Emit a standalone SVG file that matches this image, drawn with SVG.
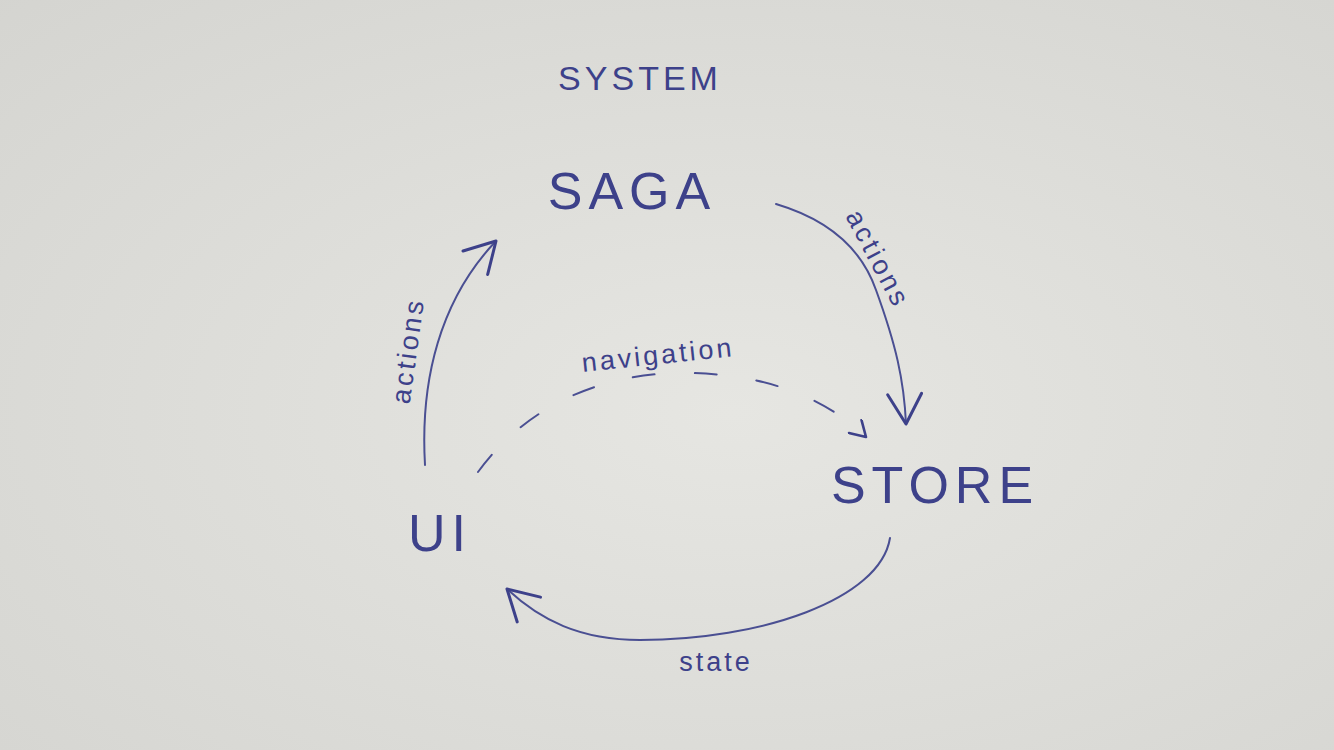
<svg xmlns="http://www.w3.org/2000/svg" width="1334" height="750" viewBox="0 0 1334 750">
<defs>
<radialGradient id="paper" cx="0.55" cy="0.55" r="0.8">
<stop offset="0" stop-color="#e6e6e2"/>
<stop offset="1" stop-color="#d4d4d0"/>
</radialGradient>
<marker id="arrow" viewBox="0 0 20 20" refX="17" refY="10" markerWidth="20" markerHeight="20" markerUnits="userSpaceOnUse" orient="auto">
<path d="M2,1 L17,10 L2,19" fill="none" stroke="#3d418a" stroke-width="2.6" stroke-linecap="round" stroke-linejoin="round"/>
</marker>
<marker id="arrowL" viewBox="0 0 40 40" refX="36" refY="20" markerWidth="40" markerHeight="40" markerUnits="userSpaceOnUse" orient="auto">
<path d="M6,3 L36,20 L6,37" fill="none" stroke="#3d418a" stroke-width="3" stroke-linecap="round" stroke-linejoin="round"/>
</marker>
<style>
.ink{fill:#3d418a;font-family:"Liberation Sans","DejaVu Sans",sans-serif;}
.node{font-size:52px;letter-spacing:6px;text-anchor:middle;}
.lbl{font-size:27px;letter-spacing:3px;text-anchor:middle;}
.edge{fill:none;stroke:#4a4f92;stroke-width:2;stroke-linecap:round;}
</style>
</defs>
<rect width="1334" height="750" fill="url(#paper)"/>
<text class="ink" x="640" y="90" font-size="34" text-anchor="middle" letter-spacing="4">SYSTEM</text>
<g id="saga"><text class="ink node" x="632" y="209" letter-spacing="10">SAGA</text></g>
<g id="store"><text class="ink node" x="935" y="503">STORE</text></g>
<g id="ui"><text class="ink node" x="440" y="551" font-size="48" letter-spacing="22">UI</text></g>
<g id="connectors">
<path class="edge" d="M425,465 C420,380 440,300 496,241" marker-end="url(#arrowL)"/>
<path class="edge" d="M776,204 C830,220 862,250 876,290 C896,345 904,380 906,424" marker-end="url(#arrowL)"/>
<path class="edge" stroke-dasharray="22 40" stroke-width="2.6" d="M478,472 C520,414 590,374 680,373 C770,372 830,402 866,437" marker-end="url(#arrow)"/>
<path class="edge" d="M890,538 C880,600 760,640 640,640 C580,640 540,620 507,589" marker-end="url(#arrowL)"/>
<text class="ink lbl" transform="translate(417,352) rotate(-82)">actions</text>
<text class="ink lbl" transform="translate(870,263) rotate(62)">actions</text>
<text class="ink lbl" transform="translate(659,364) rotate(-6)">navigation</text>
<text class="ink lbl" x="716" y="671" letter-spacing="5">state</text>
</g>
</svg>
